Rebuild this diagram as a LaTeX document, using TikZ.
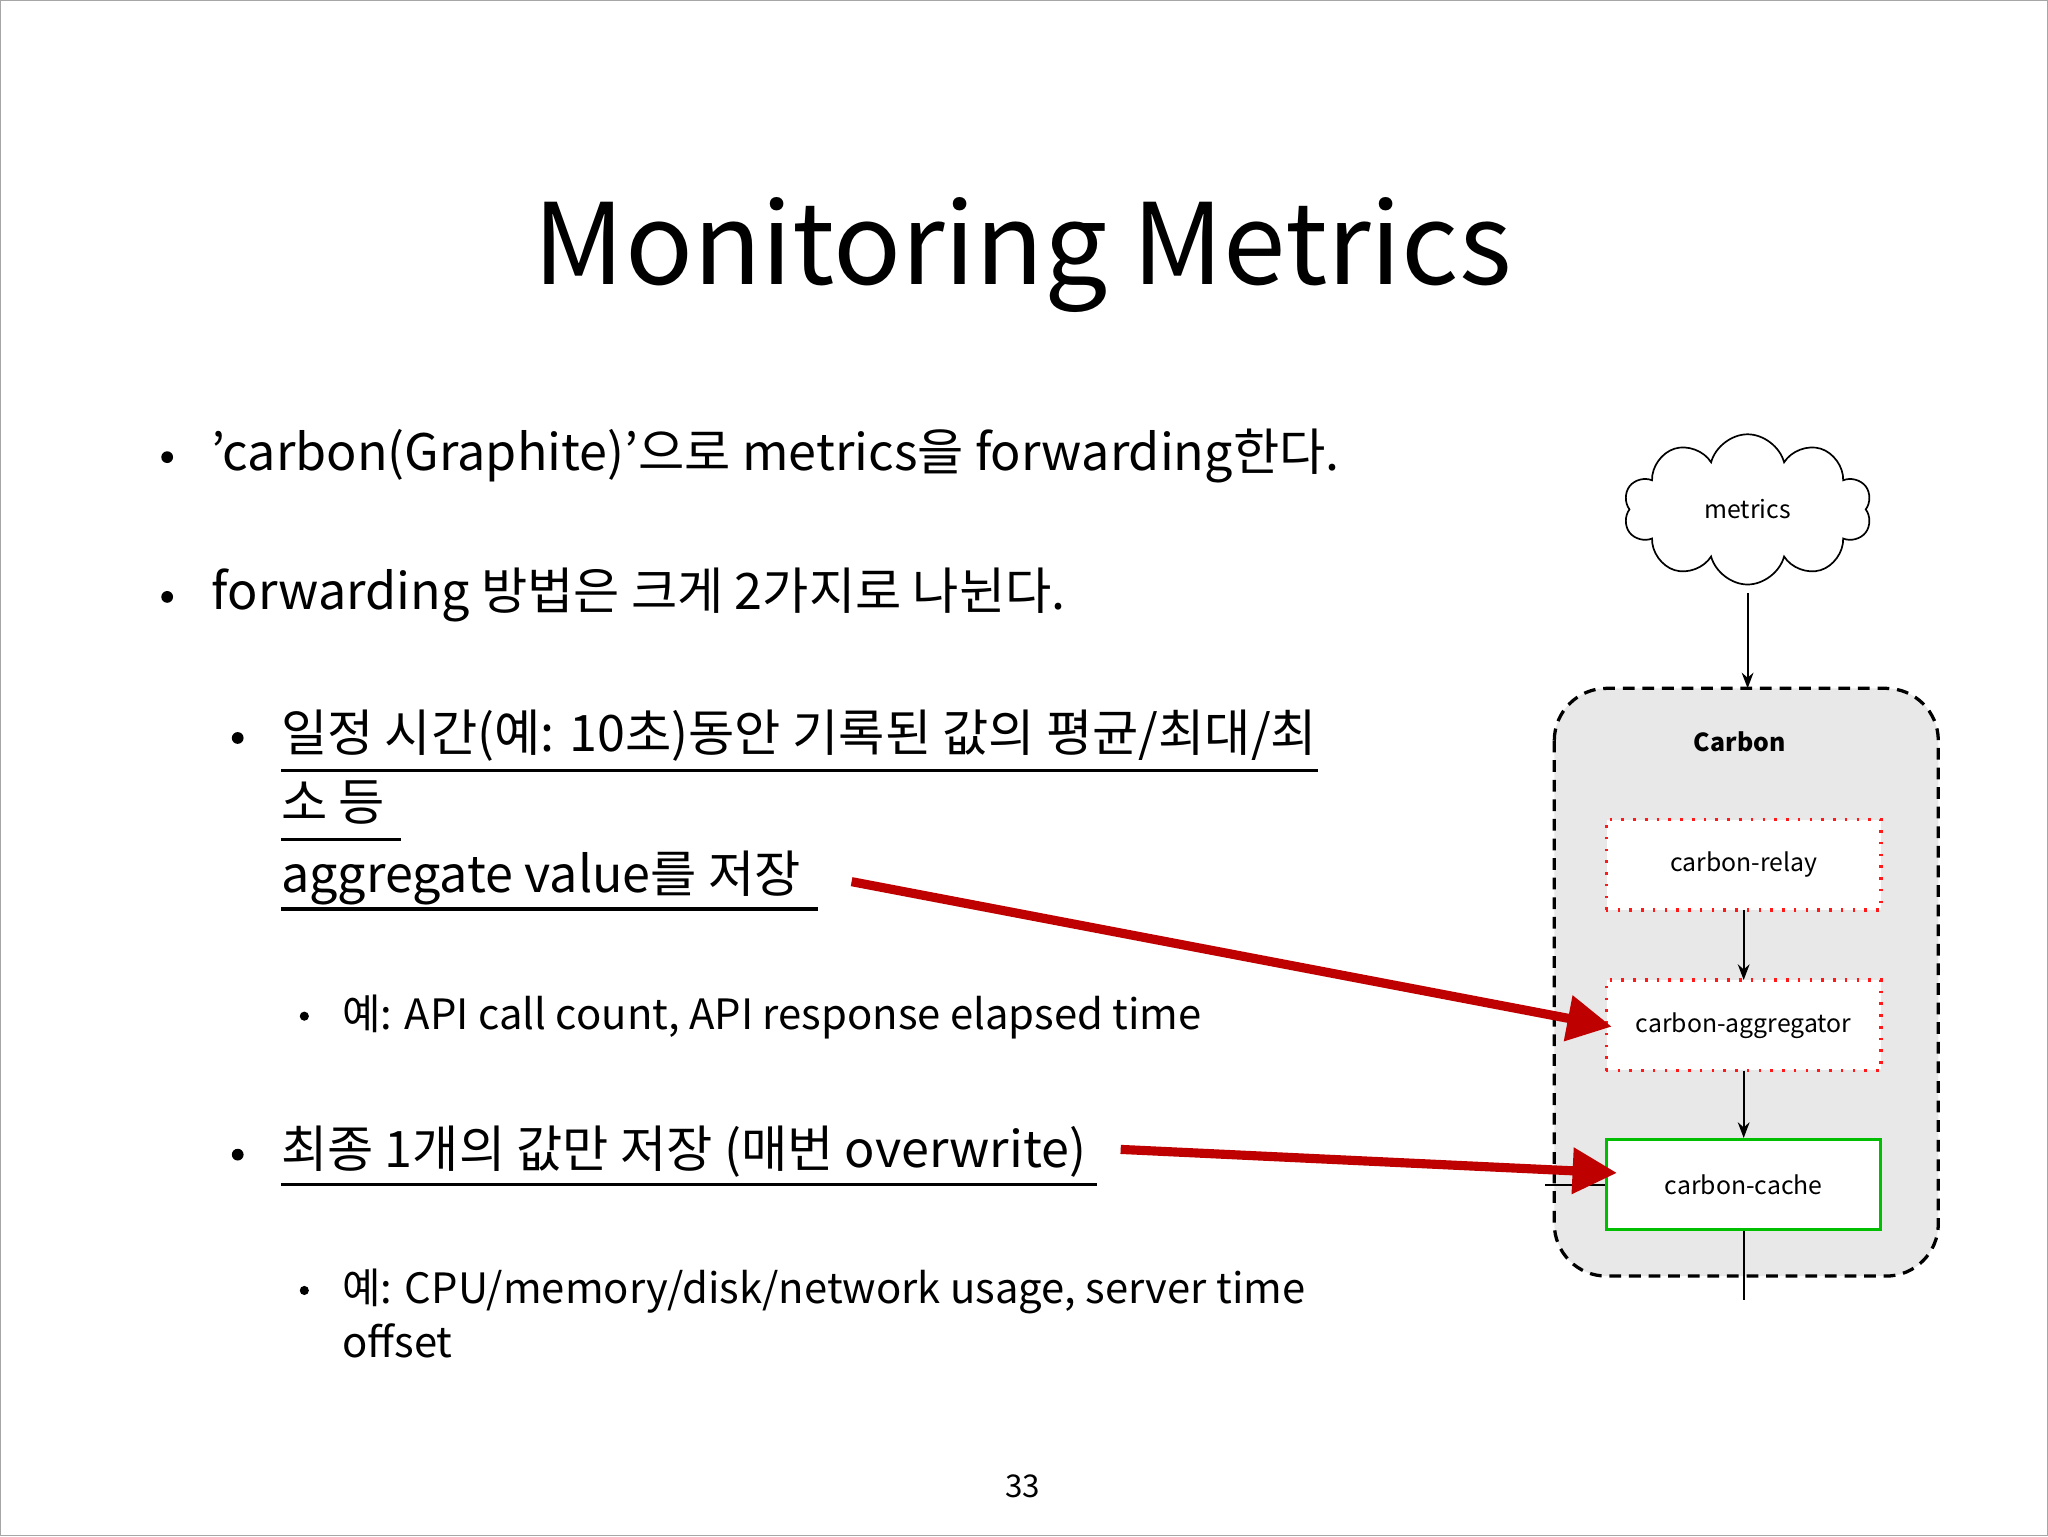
\documentclass[tikz,border=0pt]{standalone}
\usepackage{fontspec}
\setmainfont{Noto Sans CJK KR}
\usetikzlibrary{shapes.symbols,arrows.meta}
\begin{document}
\begin{tikzpicture}[x=1pt,y=-1pt,
  body/.style={anchor=base west,inner sep=0pt,font=\fontsize{38.5}{42}\selectfont},
  small/.style={anchor=base west,inner sep=0pt,font=\fontsize{32}{36}\selectfont},
  dot/.style={circle,fill=black,inner sep=0pt,minimum size=9pt},
  sdot/.style={circle,fill=black,inner sep=0pt,minimum size=7pt},
  ul/.style={line width=2.5pt},
  box/.style={minimum width=210pt,minimum height=69pt,fill=white,font=\fontsize{19}{22}\selectfont},
  red/.style={draw=red!90,dash pattern=on 2pt off 7pt,line width=2.5pt},
  conn/.style={-{Stealth[length=12pt,width=9pt]},line width=1.5pt},
  redarrow/.style={draw=red!75!black,line width=7pt,-{Triangle[length=34pt,width=34pt]}}]
\useasboundingbox (0,0) rectangle (1568,1176);
\draw[gray!70,line width=1pt] (0.5,0.5) rectangle (1567.5,1175.5);
\node[font=\fontsize{86}{92}\selectfont,inner sep=0pt,anchor=base] (title) at (783,218) {Monitoring Metrics};
\node[dot] (b1) at (128,350) {};
\node[body] (t1) at (162,360) {\char"27carbon(Graphite)\char"27으로 metrics을 forwarding한다.};
\node[dot] (b2) at (128,457) {};
\node[body] (t2) at (162,467) {forwarding 방법은 크게 2가지로 나뉜다.};
\node[dot] (b3) at (182,565) {};
\node[body] (t3a) at (215,575) {일정 시간(예: 10초)동안 기록된 값의 평균/최대/최};
\node[body] (t3b) at (215,628) {소 등};
\node[body] (t3c) at (215,683) {aggregate value를 저장};
\draw[ul] (215,590) -- (1009,590);
\draw[ul] (215,643) -- (307,643);
\draw[ul] (215,696) -- (626,696);
\node[sdot] (b4) at (233,778) {};
\node[small] (t4) at (262,788) {예: API call count, API response elapsed time};
\node[dot] (b5) at (182,884) {};
\node[body] (t5) at (215,894) {최종 1개의 값만 저장 (매번 overwrite)};
\draw[ul] (215,907) -- (840,907);
\node[sdot] (b6) at (233,988) {};
\node[small] (t6a) at (262,998) {예: CPU/memory/disk/network usage, server time};
\node[small] (t6b) at (262,1039) {offset};
\node[font=\fontsize{24}{28}\selectfont] (pg) at (783,1138) {33};
% diagram
\node[cloud,cloud puffs=10,aspect=1.7,draw,line width=1.3pt,minimum width=190pt,minimum height=115pt,font=\fontsize{19}{22}\selectfont] (cloud) at (1338,390) {metrics};
\draw[fill=gray!18,line width=2.5pt,dash pattern=on 9pt off 6pt,rounded corners=40pt] (1190,527) rectangle (1484,977);
\coordinate (ctop) at (1338,527);
\node[font=\bfseries\fontsize{19}{22}\selectfont] (carbon) at (1332,568) {Carbon};
\node[box] (relay) at (1335,662) {carbon-relay};
\draw[red] (relay.south west) rectangle (relay.north east);
\node[box] (agg) at (1335,785) {carbon-aggregator};
\draw[red] (agg.south west) rectangle (agg.north east);
\node[box,draw=green!75!black,line width=2.5pt] (cache) at (1335,907) {carbon-cache};
\draw[conn] (cloud.south) ++(0,6) -- (ctop);
\draw[conn] (relay) -- (agg);
\draw[conn] (agg) -- (cache);
\coordinate (cbot) at (1335,995);
\draw[line width=1.5pt] (cache.south) -- (cbot);
\coordinate (cleft) at (1183,907);
\draw[line width=1.5pt] (cleft) -- (cache.west);
\coordinate (r1) at (652,675);
\coordinate (r2) at (858,880);
\draw[redarrow] (r1) -- (1234,786);
\draw[redarrow] (r2) -- (1238,898);
\end{tikzpicture}
\end{document}
